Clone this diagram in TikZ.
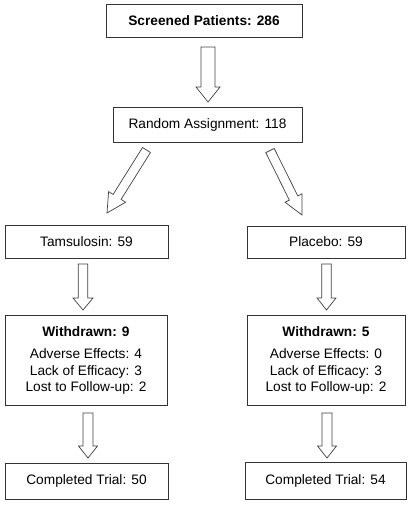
\documentclass[tikz,border=0pt]{standalone}
\usepackage{fontspec}
\setmainfont{Liberation Sans}
\usetikzlibrary{calc}
\tikzset{
  box/.style={draw=black!80, line width=0.8pt, inner sep=0pt, align=center,
    font=\fontsize{13.7}{16.8}\selectfont},
  blk/.style={draw=black!75, line width=0.7pt, fill=white, line join=miter},
}
% start, end, shaft half width, head half width, head length, name
\newcommand\blockarr[6]{%
  \coordinate (#6h) at ($(#2)!#5!(#1)$);
  \draw[blk] ($(#1)!#3!90:(#2)$) -- ($(#6h)!#3!90:(#2)$) -- ($(#6h)!#4!90:(#2)$)
    -- (#2) -- ($(#6h)!#4!-90:(#2)$) -- ($(#6h)!#3!-90:(#2)$)
    -- ($(#1)!#3!-90:(#2)$) -- cycle;}
\begin{document}
\begin{tikzpicture}[x=1pt,y=-1pt]
\useasboundingbox (0,0) rectangle (410,506);

\node[box, minimum width=196pt, minimum height=33pt] (scr) at (204,20.5) {\bfseries Screened Patients: 286};
\node[box, minimum width=189pt, minimum height=35pt] (rnd) at (207.5,124.5) {Random Assignment: 118};
\node[box, minimum width=163pt, minimum height=33pt] (tam) at (86.5,241.5) {Tamsulosin: 59};
\node[box, minimum width=158pt, minimum height=32pt] (pla) at (326,242) {Placebo: 59};
\node[box, minimum width=162pt, minimum height=90pt, text depth=2pt] (wl) at (86,360)
  {\bfseries Withdrawn: 9\\[5.5pt] Adverse Effects: 4\\ Lack of Efficacy: 3\\ Lost to Follow-up: 2};
\node[box, minimum width=158pt, minimum height=90pt, text depth=2pt] (wr) at (326,360)
  {\bfseries Withdrawn: 5\\[5.5pt] Adverse Effects: 0\\ Lack of Efficacy: 3\\ Lost to Follow-up: 2};
\node[box, minimum width=163pt, minimum height=36pt] (cl) at (86.5,481) {Completed Trial: 50};
\node[box, minimum width=161pt, minimum height=37pt] (cr) at (325.5,480.5) {Completed Trial: 54};

% arrow end points
\coordinate (a1s) at (208,47);   \coordinate (a1e) at (208,102);
\coordinate (a2s) at (146.5,150); \coordinate (a2e) at (107,213);
\coordinate (a3s) at (270,150.5); \coordinate (a3e) at (302,215);
\coordinate (a4s) at (83,264);   \coordinate (a4e) at (83,310);
\coordinate (a5s) at (326.5,264); \coordinate (a5e) at (326.5,310);
\coordinate (a6s) at (88,413);   \coordinate (a6e) at (88,458);
\coordinate (a7s) at (327,413);  \coordinate (a7e) at (327,458);

\blockarr{a1s}{a1e}{7pt}{12pt}{15pt}{a1}
\blockarr{a2s}{a2e}{4.7pt}{10pt}{19pt}{a2}
\blockarr{a3s}{a3e}{4.7pt}{9.5pt}{19pt}{a3}
\blockarr{a4s}{a4e}{4.8pt}{10pt}{12pt}{a4}
\blockarr{a5s}{a5e}{4.8pt}{9.5pt}{12pt}{a5}
\blockarr{a6s}{a6e}{5pt}{9.5pt}{12pt}{a6}
\blockarr{a7s}{a7e}{5pt}{9.5pt}{12pt}{a7}
\end{tikzpicture}
\end{document}
